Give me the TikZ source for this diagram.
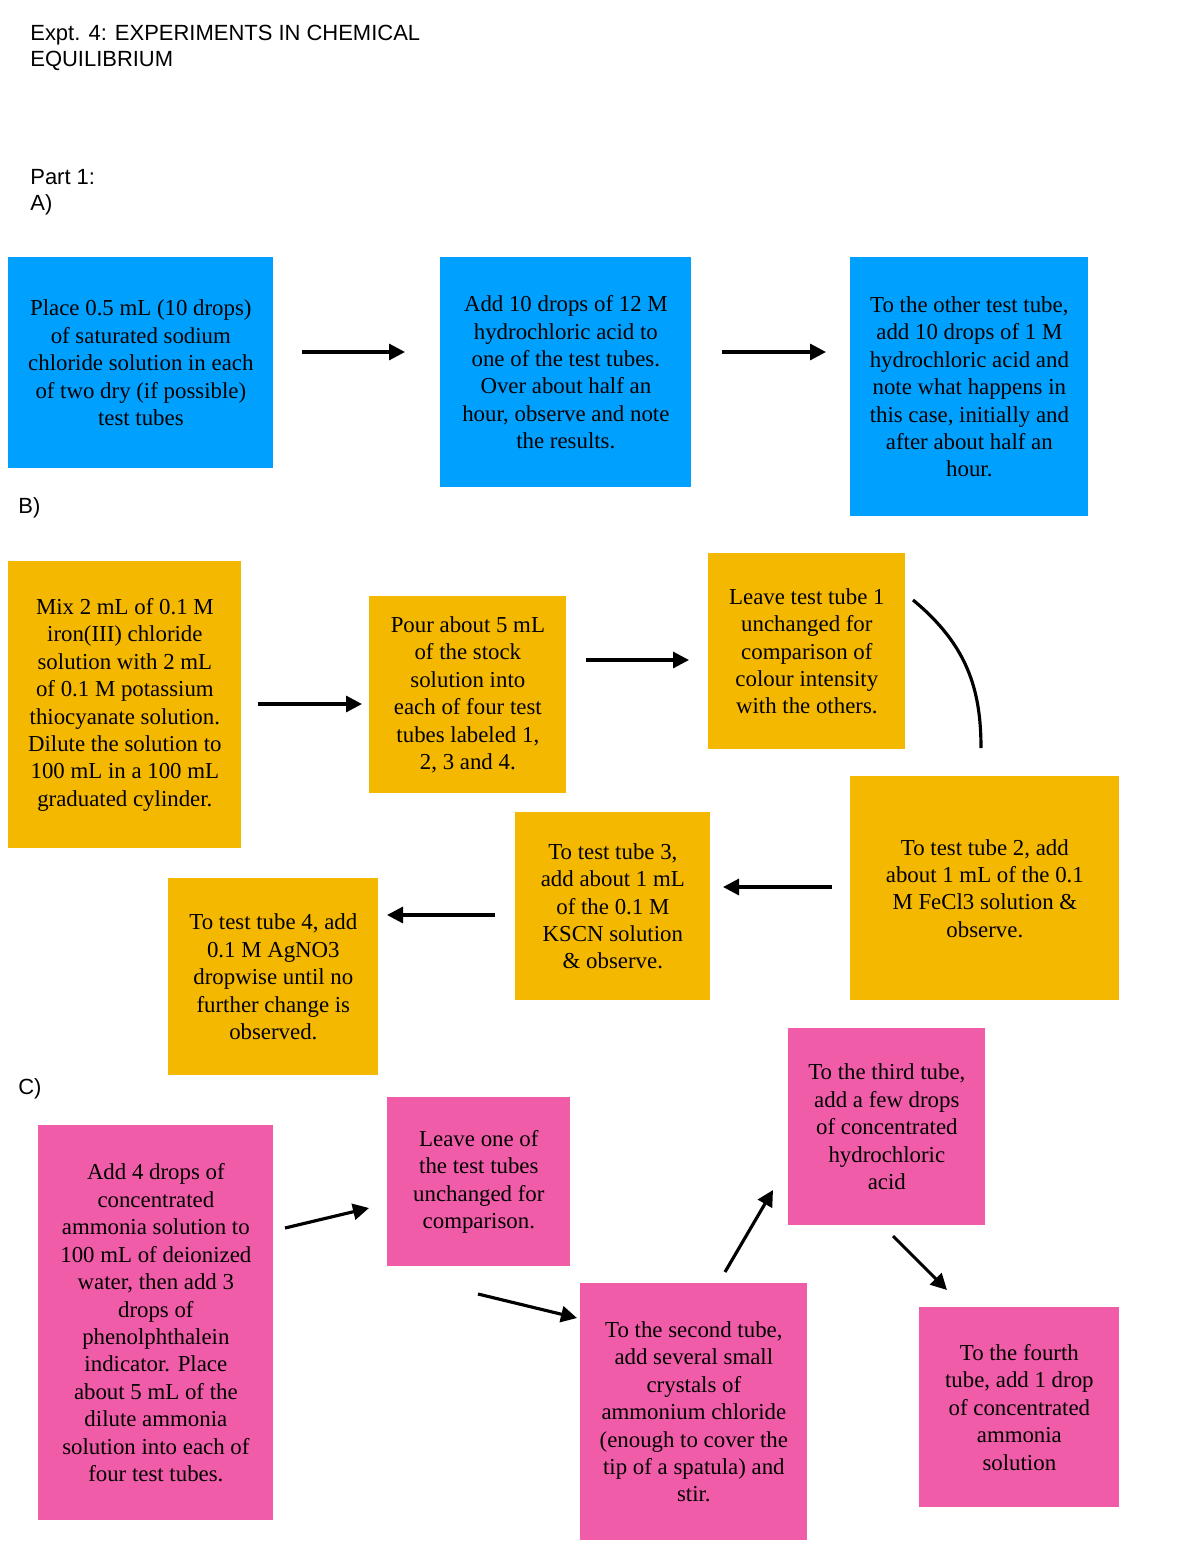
\documentclass[tikz,border=0pt]{standalone}
\usepackage{fontspec}
\setmainfont{Liberation Serif}
\newfontfamily\headfont{Liberation Sans}
\usetikzlibrary{arrows.meta}
\definecolor{partA}{HTML}{00A0FF}
\definecolor{partB}{HTML}{F5B800}
\definecolor{partC}{HTML}{F05CA8}
\begin{document}
\begin{tikzpicture}
        [
        step/.style={rectangle, fill=#1, anchor=north west, align=center, inner sep=0pt,
            font=\fontsize{13}{15.6}\selectfont},
        label/.style={anchor=north west, align=left, inner sep=0pt,
            font=\headfont\fontsize{12.5}{14.8}\selectfont},
        arrow/.style={-{Triangle[length=0.32cm,width=0.32cm]}, line width=1.8pt},
        link/.style={line width=1.8pt}
        ]
        \useasboundingbox (0,0) rectangle (24,-31.06);

        % Headings
        \node[label] (title) at (0.6,-0.5) {Expt. 4: EXPERIMENTS IN CHEMICAL\\EQUILIBRIUM};
        \node[label] (part) at (0.6,-3.38) {Part 1:\\A)};
        \node[label] (partb) at (0.36,-9.94) {B)};
        \node[label] (partc) at (0.36,-21.56) {C)};

        % Part A
        \node[step=partA, minimum width=5.30cm, minimum height=4.22cm] (a1) at (0.16,-5.14)
            {Place 0.5 mL (10 drops)\\of saturated sodium\\chloride solution in each\\of two dry (if possible)\\test tubes};
        \node[step=partA, minimum width=5.02cm, minimum height=4.60cm] (a2) at (8.80,-5.14)
            {Add 10 drops of 12 M\\hydrochloric acid to\\one of the test tubes.\\Over about half an\\hour, observe and note\\the results.};
        \node[step=partA, minimum width=4.76cm, minimum height=5.18cm] (a3) at (17.00,-5.14)
            {To the other test tube,\\add 10 drops of 1 M\\hydrochloric acid and\\note what happens in\\this case, initially and\\after about half an\\hour.};

        % Part B
        \node[step=partB, minimum width=4.66cm, minimum height=5.74cm] (b1) at (0.16,-11.22)
            {Mix 2 mL of 0.1 M\\iron(III) chloride\\solution with 2 mL\\of 0.1 M potassium\\thiocyanate solution.\\Dilute the solution to\\100 mL in a 100 mL\\graduated cylinder.};
        \node[step=partB, minimum width=3.94cm, minimum height=3.94cm] (b2) at (7.38,-11.92)
            {Pour about 5 mL\\of the stock\\solution into\\each of four test\\tubes labeled 1,\\2, 3 and 4.};
        \node[step=partB, minimum width=3.94cm, minimum height=3.92cm] (b3) at (14.16,-11.06)
            {Leave test tube 1\\unchanged for\\comparison of\\colour intensity\\with the others.};
        \node[step=partB, minimum width=5.38cm, minimum height=4.48cm] (b4) at (17.00,-15.52)
            {To test tube 2, add\\about 1 mL of the 0.1\\M FeCl3 solution \&\\observe.};
        \node[step=partB, minimum width=3.90cm, minimum height=3.76cm] (b5) at (10.30,-16.24)
            {To test tube 3,\\add about 1 mL\\of the 0.1 M\\KSCN solution\\\& observe.};
        \node[step=partB, minimum width=4.20cm, minimum height=3.94cm] (b6) at (3.36,-17.56)
            {To test tube 4, add\\0.1 M AgNO3\\dropwise until no\\further change is\\observed.};

        % Part C
        \node[step=partC, minimum width=4.70cm, minimum height=7.90cm] (c1) at (0.76,-22.50)
            {Add 4 drops of\\concentrated\\ammonia solution to\\100 mL of deionized\\water, then add 3\\drops of\\phenolphthalein\\indicator. Place\\about 5 mL of the\\dilute ammonia\\solution into each of\\four test tubes.};
        \node[step=partC, minimum width=3.66cm, minimum height=3.38cm] (c2) at (7.74,-21.94)
            {Leave one of\\the test tubes\\unchanged for\\comparison.};
        \node[step=partC, minimum width=4.54cm, minimum height=5.14cm] (c3) at (11.60,-25.66)
            {To the second tube,\\add several small\\crystals of\\ammonium chloride\\(enough to cover the\\tip of a spatula) and\\stir.};
        \node[step=partC, minimum width=3.94cm, minimum height=3.94cm] (c4) at (15.76,-20.56)
            {To the third tube,\\add a few drops\\of concentrated\\hydrochloric\\acid};
        \node[step=partC, minimum width=4.00cm, minimum height=4.00cm] (c5) at (18.38,-26.14)
            {To the fourth\\tube, add 1 drop\\of concentrated\\ammonia\\solution};

        % Arrow ends
        \coordinate (a1out) at (6.04,-7.04);   \coordinate (a2in) at (8.10,-7.04);
        \coordinate (a2out) at (14.44,-7.04);  \coordinate (a3in) at (16.52,-7.04);
        \coordinate (b1out) at (5.16,-14.08);  \coordinate (b2in) at (7.24,-14.08);
        \coordinate (b2out) at (11.72,-13.20); \coordinate (b3in) at (13.78,-13.20);
        \coordinate (b3out) at (18.26,-12.00); \coordinate (b4in) at (19.62,-14.96);
        \coordinate (b4out) at (16.64,-17.74); \coordinate (b5in) at (14.46,-17.74);
        \coordinate (b5out) at (9.90,-18.30);  \coordinate (b6in) at (7.74,-18.30);
        \coordinate (c1out) at (5.70,-24.56);  \coordinate (c2in) at (7.38,-24.16);
        \coordinate (c2out) at (9.56,-25.88);  \coordinate (c3in) at (11.54,-26.36);
        \coordinate (c3out) at (14.50,-25.44); \coordinate (c4in) at (15.46,-23.80);
        \coordinate (c4out) at (17.86,-24.72); \coordinate (c5in) at (18.94,-25.80);

        % Arrows
        \draw[arrow] (a1out) -- (a2in);
        \draw[arrow] (a2out) -- (a3in);
        \draw[arrow] (b1out) -- (b2in);
        \draw[arrow] (b2out) -- (b3in);
        \draw[link] (b3out) .. controls (19.35,-12.9) and (19.62,-13.8) .. (b4in);
        \draw[arrow] (b4out) -- (b5in);
        \draw[arrow] (b5out) -- (b6in);
        \draw[arrow] (c1out) -- (c2in);
        \draw[arrow] (c2out) -- (c3in);
        \draw[arrow] (c3out) -- (c4in);
        \draw[arrow] (c4out) -- (c5in);
    \end{tikzpicture}
\end{document}
